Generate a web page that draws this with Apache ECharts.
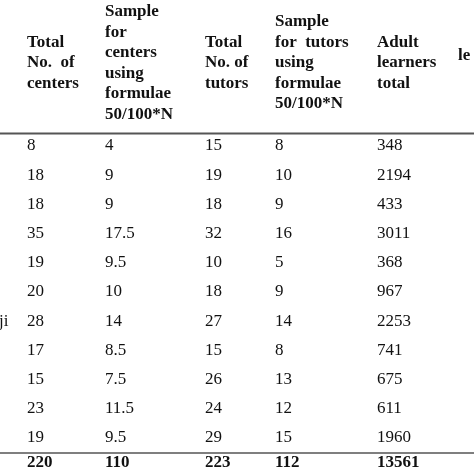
<!DOCTYPE html>
<html><head><meta charset="utf-8">
<script src="https://cdn.jsdelivr.net/npm/echarts@6/dist/echarts.min.js"></script>
<style>html,body{margin:0;background:#fff}#c{width:474px;height:474px}</style>
</head><body><div id="c"></div>
<script>
// table data
var headers = [
  ["Total", "No.  of", "centers"],
  ["Sample", "for", "centers", "using", "formulae", "50/100*N"],
  ["Total", "No. of", "tutors"],
  ["Sample", "for  tutors", "using", "formulae", "50/100*N"],
  ["Adult", "learners", "total"]
];
var centers = [8, 18, 18, 35, 19, 20, 28, 17, 15, 23, 19];
var sampleCenters = [4, 9, 9, 17.5, 9.5, 10, 14, 8.5, 7.5, 11.5, 9.5];
var tutors = [15, 19, 18, 32, 10, 18, 27, 15, 26, 24, 29];
var sampleTutors = [8, 10, 9, 16, 5, 9, 14, 8, 13, 12, 15];
var learners = [348, 2194, 433, 3011, 368, 967, 2253, 741, 675, 611, 1960];
var totals = [220, 110, 223, 112, 13561];

var colX = [27, 105, 205, 275, 377];
var headerMid = 63, lineH = 20.5, rowTop = 146, rowH = 29.2;
var font = '"Liberation Serif", "DejaVu Serif", serif';
var g = [];
function txt(x, y, s, bold) {
  g.push({type: 'text', x: x, y: y, style: {text: String(s), fill: '#111',
    font: (bold ? 'bold ' : '') + '17px ' + font, textVerticalAlign: 'middle'}});
}
headers.forEach(function (h, i) {
  var y0 = headerMid - (h.length - 1) * lineH / 2;
  h.forEach(function (s, j) { txt(colX[i], y0 + j * lineH, s, true); });
});
txt(458, 56, 'le', true);
var cols = [centers, sampleCenters, tutors, sampleTutors, learners];
cols.forEach(function (c, i) {
  c.forEach(function (v, r) { txt(colX[i], rowTop + r * rowH, v, false); });
});
txt(-1, rowTop + 6 * rowH, 'ji', false);
totals.forEach(function (v, i) { txt(colX[i], 463, v, true); });
g.push({type: 'line', shape: {x1: 0, y1: 133.5, x2: 474, y2: 133.5}, style: {stroke: '#555', lineWidth: 2}});
g.push({type: 'line', shape: {x1: 0, y1: 453, x2: 474, y2: 453}, style: {stroke: '#555', lineWidth: 1.5}});

var chart = echarts.init(document.getElementById('c'));
chart.setOption({backgroundColor: '#fff', graphic: g});
</script></body></html>
